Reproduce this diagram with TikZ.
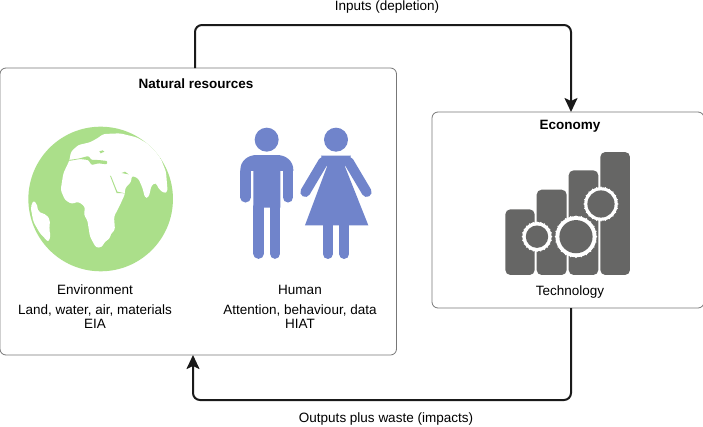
\documentclass[tikz,border=0pt]{standalone}
\usepackage{fontspec}
\setmainfont{Liberation Sans}
\usetikzlibrary{arrows.meta}
\definecolor{boxc}{HTML}{777777}
\definecolor{globec}{HTML}{ABDF8A}
\definecolor{humanc}{HTML}{7084CB}
\definecolor{barc}{HTML}{666665}
\definecolor{flowc}{HTML}{1A1A1A}
\tikzset{
  panel/.style={draw=boxc,line width=0.8pt,rounded corners=6pt,fill=white,outer sep=0pt,inner sep=0pt},
  flow/.style={draw=flowc,line width=2pt,rounded corners=7pt,-{Stealth[length=14pt,width=13pt,inset=3pt]}},
  lab/.style={font=\fontsize{13.5}{15}\selectfont,text=black,inner sep=0pt,align=center},
  head/.style={lab,font=\fontsize{13.5}{15}\selectfont\bfseries},
  bar/.style={fill=barc,rounded corners=5pt},
  limbw/.style={draw=humanc,line cap=round,line width=10.4pt},
  limbf/.style={draw=humanc,line cap=round,line width=10pt},
}
\newcommand{\mygear}[4]{% cx cy outer inner (zoom units)
  \fill[white] (#1,#2) circle (#3);
  \foreach \ang in {0,15,...,345}{\fill[white] (#1,#2) ++(\ang:#3) circle (2.4);}
  \fill[barc] (#1,#2) circle (#4);
}
\begin{document}
\begin{tikzpicture}[x=1pt,y=-1pt]
\useasboundingbox (0,0) rectangle (703,426);
\node[panel,minimum width=396.5pt,minimum height=287pt] (nat) at (198.25,211.5) {};
\node[panel,minimum width=272pt,minimum height=196pt] (econ) at (568,210) {};
\coordinate (tl) at (195,25);
\coordinate (tr) at (571,25);
\coordinate (bl) at (193,400);
\coordinate (br) at (571,400);
\draw[flow] (nat.north -| tl) -- (tl) -- (tr) -- (econ.north -| tr);
\draw[flow] (econ.south -| br) -- (br) -- (bl) -- (nat.south -| bl);
% Globe
\begin{scope}[shift={(10,110)},x=0.3333pt,y=-0.3333pt]
  \fill[globec] (272,267) circle (72.3pt);
  \begin{scope}
    \clip (272,267) circle (72.3pt);
    \fill[white,rounded corners=2.5pt] (178,152) -- (183,125) -- (205,105) -- (240,97) -- (262,85) -- (280,72) -- (330,70) -- (380,82) -- (420,105) -- (450,140) -- (468,185) -- (473,245) -- (462,250) -- (445,235) -- (438,218) -- (425,225) -- (416,262) -- (405,264) -- (398,235) -- (385,205) -- (365,197) -- (364,215) -- (345,235) -- (345,252) -- (330,285) -- (312,320) -- (315,360) -- (302,372) -- (300,385) -- (285,395) -- (275,412) -- (258,413) -- (240,380) -- (232,330) -- (222,315) -- (225,290) -- (205,275) -- (185,282) -- (165,270) -- (152,240) -- (160,190) -- cycle;
    \fill[white,rounded corners=2pt] (62,292) -- (70,272) -- (80,280) -- (85,305) -- (110,315) -- (120,330) -- (118,360) -- (122,378) -- (115,396) -- (90,370) -- (70,335) -- cycle;
    \fill[globec,rounded corners=1pt] (176,150) -- (205,146) -- (235,138) -- (245,150) -- (265,150) -- (292,153) -- (291,163) -- (265,160) -- (245,165) -- (235,150) -- (210,147) -- (176,153) -- cycle;
    \fill[globec] (268,124) -- (278,121) -- (283,125) -- (272,130) -- cycle;
    \fill[globec] (300,197) -- (303,198) -- (322,245) -- (345,250) -- (320,249) -- cycle;
    \fill[globec] (335,189) -- (345,185) -- (356,193) -- (345,191) -- cycle;
  \end{scope}
\end{scope}
% Man
\begin{scope}[shift={(225,115)},x=0.3333pt,y=-0.3333pt]
  \fill[humanc] (125,74) circle (12pt);
  \fill[humanc] (46,168) -- (46,165) .. controls (46,138) and (68,120) .. (95,120) -- (156,120) .. controls (183,120) and (205,138) .. (205,165) -- (205,168) -- (173,168) -- (166,168) -- (166,278) -- (85,278) -- (85,168) -- cycle;
  \draw[limbw] (62,170) -- (62,247);
  \draw[limbw] (189,170) -- (189,247);
  \draw[limbw] (101,275) -- (101,416);
  \draw[limbw] (150,275) -- (150,416);
  % Woman
  \fill[humanc] (333,74) circle (12pt);
  \fill[humanc] (288,122) -- (378,122) -- (360,155) -- (430,331) -- (240,331) -- (306,155) -- cycle;
  \draw[limbf] (295,140) -- (241,231);
  \draw[limbf] (371,140) -- (425,231);
  \draw[limbf] (308,325) -- (308,417);
  \draw[limbf] (358,325) -- (358,417);
\end{scope}
% Bars and gears
\begin{scope}[shift={(490,140)},x=0.3333pt,y=-0.3333pt]
  \fill[bar] (46,208) rectangle (134,405);
  \fill[bar] (140,149) rectangle (230,405);
  \fill[bar] (236,91) rectangle (325,405);
  \fill[bar] (331,36) rectangle (420,405);
  \mygear{141}{290}{14.6pt}{11.2pt}
  \mygear{258}{290}{20.6pt}{16.6pt}
  \mygear{333}{192}{16.8pt}{13.6pt}
\end{scope}
% Labels
\node[lab] (tin) at (387,7) {Inputs (depletion)};
\node[lab] (tout) at (386,419) {Outputs plus waste (impacts)};
\node[head] (tnat) at (196,83.5) {Natural resources};
\node[head] (tecon) at (570,126) {Economy};
\node[lab] (tenv) at (95,290) {Environment};
\node[lab] (tenv2) at (95,310) {Land, water, air, materials};
\node[lab] (tenv3) at (95,324) {EIA};
\node[lab] (thum) at (300,290) {Human};
\node[lab] (thum2) at (300,310) {Attention, behaviour, data};
\node[lab] (thum3) at (300,324) {HIAT};
\node[lab] (ttech) at (570,292) {Technology};
\end{tikzpicture}
\end{document}
